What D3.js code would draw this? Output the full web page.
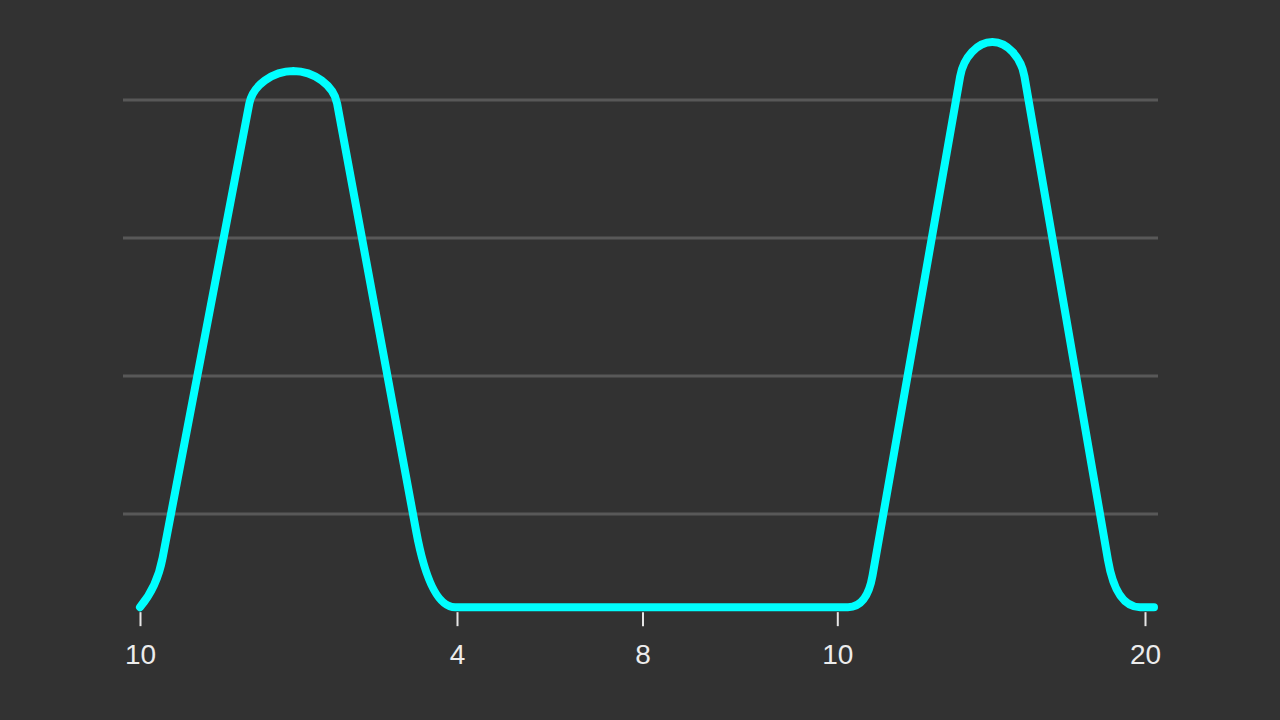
<!DOCTYPE html>
<html>
<head>
<meta charset="utf-8">
<script src="https://cdn.jsdelivr.net/npm/d3@7"></script>
<style>
  html, body { margin: 0; padding: 0; background: #323232; overflow: hidden; }
  svg { display: block; }
</style>
</head>
<body>
<script>
// ---- data (corner points of the line) ----
const xValues = [0, 1.70, 11.55, 19.11, 29.02, 72.70, 82.62, 87.85, 97.61, 101.4];
const yValues = [6.5, 9.39, 84.2, 84.2, 6.5, 6.5, 88.41, 88.41, 6.5, 6.5];
const tickValues = [0, 31.7, 50.25, 69.73, 100.5];
const tickLabels = ["10", "4", "8", "10", "20"];
const gridValues = [20, 40, 60, 80];

// ---- style: how far (px) each corner is rounded along its incoming / outgoing edge ----
const cornerIn  = [0, 40, 33, 38, 78, 19, 35, 26, 48, 0];
const cornerOut = [0, 30, 38, 33, 25, 32, 26, 35, 24, 0];
const cornerK   = [0, 0.667, 0.55, 0.55, 0.667, 0.667, 0.56, 0.56, 0.667, 0];

// ---- drawing ----
const W = 1280, H = 720;
const svg = d3.select("body").append("svg").attr("width", W).attr("height", H);
svg.append("rect").attr("width", W).attr("height", H).attr("fill", "#323232");

const x = d3.scaleLinear().domain([-1.7, 101.8]).range([123, 1158]);
const y = d3.scaleLinear().domain([0, 80]).range([652, 100]);

// gridlines
svg.append("g").selectAll("line").data(gridValues).join("line")
  .attr("x1", x.range()[0]).attr("x2", x.range()[1])
  .attr("y1", d => y(d)).attr("y2", d => y(d))
  .attr("stroke", "#585858").attr("stroke-width", 3);

// x axis
const axis = d3.axisBottom(x)
  .tickValues(tickValues)
  .tickFormat((d, i) => tickLabels[i])
  .tickSize(14)
  .tickPadding(18);
const gx = svg.append("g").attr("transform", `translate(0,${y(6.5) + 5})`).call(axis);
gx.select(".domain").remove();
gx.selectAll(".tick line").attr("stroke", "#e6e6e6").attr("stroke-width", 2);
gx.selectAll(".tick text")
  .attr("fill", "#ececec")
  .style("font-family", "'Liberation Sans', Arial, sans-serif")
  .style("font-size", "28px");

// line: polyline through the scaled points with rounded corners
const P = xValues.map((v, i) => [x(v), y(yValues[i])]);
const path = d3.path();
path.moveTo(P[0][0], P[0][1]);
for (let i = 1; i < P.length - 1; i++) {
  const A = P[i - 1], V = P[i], B = P[i + 1];
  const dIn = Math.hypot(V[0] - A[0], V[1] - A[1]);
  const dOut = Math.hypot(B[0] - V[0], B[1] - V[1]);
  const a = Math.min(cornerIn[i], dIn), b = Math.min(cornerOut[i], dOut);
  const S = [V[0] + (A[0] - V[0]) * a / dIn, V[1] + (A[1] - V[1]) * a / dIn];
  const E = [V[0] + (B[0] - V[0]) * b / dOut, V[1] + (B[1] - V[1]) * b / dOut];
  const k = cornerK[i];
  path.lineTo(S[0], S[1]);
  path.bezierCurveTo(
    S[0] + (V[0] - S[0]) * k, S[1] + (V[1] - S[1]) * k,
    E[0] + (V[0] - E[0]) * k, E[1] + (V[1] - E[1]) * k,
    E[0], E[1]);
}
path.lineTo(P[P.length - 1][0], P[P.length - 1][1]);

svg.append("path")
  .attr("d", path.toString())
  .attr("fill", "none")
  .attr("stroke", "#00ffff")
  .attr("stroke-width", 8)
  .attr("stroke-linecap", "round")
  .attr("stroke-linejoin", "round");
</script>
</body>
</html>
